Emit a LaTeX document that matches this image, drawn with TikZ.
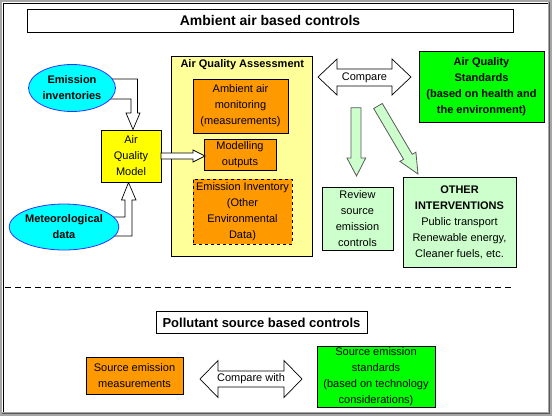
\documentclass[tikz,border=0pt]{standalone}
\usepackage{fontspec}
\setmainfont{Liberation Sans}
\usetikzlibrary{shapes.geometric}
\begin{document}
\begin{tikzpicture}[x=1pt,y=-1pt,
    box/.style={draw, line width=0.8pt, align=center, inner sep=0pt, font=\fontsize{11}{16}\selectfont},
    boldbox/.style={box, font=\bfseries\fontsize{11}{16}\selectfont},
    titlebox/.style={draw, line width=1pt, inner sep=0pt, font=\bfseries\fontsize{14}{16}\selectfont},
    blockarrow/.style={draw, line width=0.7pt, fill=white},
    greenarrow/.style={draw=black!65, line width=0.8pt, fill=lightgreen}]
        \definecolor{skyellow}{HTML}{FFFF99}
        \definecolor{modelyellow}{HTML}{FFFF00}
        \definecolor{boxorange}{HTML}{FF9900}
        \definecolor{ellcyan}{HTML}{00FFFF}
        \definecolor{ellblue}{HTML}{3333FF}
        \definecolor{stdgreen}{HTML}{00FF00}
        \definecolor{lightgreen}{HTML}{CCFFCC}

        \useasboundingbox (0,0) rectangle (552,416);
        \fill[black!35] (0,0) rectangle (552,416);
        \fill[white] (2,2) rectangle (548,412);
        \draw[line width=0.6pt] (3,3) -- (3,412) (3,3) -- (548,3);
        \draw[black!65, line width=1pt] (549,2) -- (549,413) -- (2,413);

        \node[titlebox, minimum width=486, minimum height=23] (ambient) at (270,20.5) {Ambient air based controls};

        \draw[line width=0.8pt, fill=skyellow] (171,56) rectangle (312,256);
        \node[anchor=west, font=\bfseries\fontsize{11}{16}\selectfont] (aqa) at (177,65) {Air Quality Assessment};

        \draw[blockarrow] (110,79) -- (137.5,79) -- (137.5,113) -- (140,113) -- (133,129.5) -- (126,113) -- (131,113) -- (131,99) -- (110,99) -- cycle;
        \draw[blockarrow] (110,217) -- (125,217) -- (125,200) -- (121.5,200) -- (128.5,182.5) -- (136,200) -- (132,200) -- (132,236) -- (110,236) -- cycle;

        \node[boldbox, shape=ellipse, draw=ellblue, fill=ellcyan, minimum width=87, minimum height=47] (emisinv) at (72,88) {Emission\\inventories};
        \node[boldbox, shape=ellipse, draw=ellblue, fill=ellcyan, minimum width=104, minimum height=46] (meteo) at (64,227) {Meteorological\\data};

        \node[box, fill=modelyellow, minimum width=60, minimum height=52] (aqmodel) at (131,156) {Air\\Quality\\Model};

        \node[box, fill=boxorange, minimum width=95, minimum height=54] (monitor) at (240.5,106) {Ambient air\\monitoring\\(measurements)};
        \node[box, fill=boxorange, minimum width=72, minimum height=31] (modelout) at (240,154.5) {Modelling\\outputs};
        \node[box, dashed, fill=boxorange, minimum width=99, minimum height=65] (eminv) at (242.5,211.5) {Emission Inventory\\(Other\\Environmental\\Data)};

        \draw[blockarrow] (161,153) -- (193,153) -- (193,150) -- (205,156) -- (193,162) -- (193,159) -- (161,159) -- cycle;

        \draw[blockarrow] (318,77) -- (337,59) -- (337,69) -- (392,69) -- (392,59) -- (411,77) -- (392,95) -- (392,86) -- (337,86) -- (337,95) -- cycle;
        \node[font=\fontsize{11}{16}\selectfont] (compare) at (364.5,77.5) {Compare};

        \node[boldbox, fill=stdgreen, minimum width=125, minimum height=71] (aqstd) at (481.5,86.5) {Air Quality\\Standards\\(based on health and\\the environment)};

        \draw[greenarrow] (351,107.7) -- (361,107.7) -- (361,158) -- (365.7,158) -- (356.5,176) -- (347,158) -- (351,158) -- cycle;
        \draw[greenarrow] (382.3,103.5) -- (412.2,154.3) -- (415.9,152.2) -- (418,174) -- (399.9,161.4) -- (403.6,159.3) -- (373.7,108.5) -- cycle;

        \node[box, fill=lightgreen, minimum width=71, minimum height=63] (review) at (357.5,218.5) {Review\\source\\emission\\controls};
        \node[box, fill=lightgreen, minimum width=113, minimum height=90] (other) at (459.5,222) {\textbf{OTHER}\\\textbf{INTERVENTIONS}\\Public transport\\Renewable energy,\\Cleaner fuels, etc.};

        \draw[line width=0.7pt, dash pattern=on 6pt off 4pt] (5,287.5) -- (514,287.5);

        \node[titlebox, font=\bfseries\fontsize{13}{16}\selectfont, minimum width=211, minimum height=22] (pollutant) at (261.5,322.5) {Pollutant source based controls};

        \node[box, fill=boxorange, minimum width=97, minimum height=37] (srcmeas) at (134.5,375.5) {Source emission\\measurements};
        \draw[blockarrow] (200,379) -- (218,360.5) -- (218,371) -- (284,371) -- (284,360.5) -- (302,379) -- (284,397.5) -- (284,387) -- (218,387) -- (218,397.5) -- cycle;
        \node[font=\fontsize{11}{16}\selectfont] (comparewith) at (251,379) {Compare with};
        \node[box, fill=stdgreen, minimum width=118, minimum height=61] (srcstd) at (376,376.5) {Source emission\\standards\\(based on technology\\considerations)};
\end{tikzpicture}
\end{document}
